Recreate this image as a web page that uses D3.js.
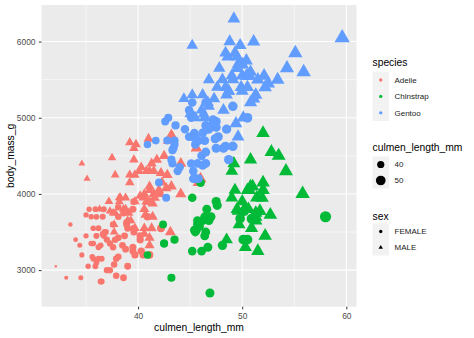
<!DOCTYPE html>
<html>
<head>
<meta charset="utf-8">
<script src="https://cdn.jsdelivr.net/npm/d3@7"></script>
<style>
body{margin:0;background:#fff;}
text{font-family:"Liberation Sans",Arial,sans-serif;}
</style>
</head>
<body>
<div id="plot"></div>
<script>
// penguins: [culmen_length_mm, body_mass_g, sex]
var adelie = [
	[39.1,3750,'M'],[39.5,3800,'F'],[40.3,3250,'F'],[36.7,3450,'F'],[39.3,3650,'M'],[38.9,3625,'F'],[39.2,4675,'M'],[41.1,3200,'F'],
	[38.6,3800,'M'],[34.6,4400,'M'],[36.6,3700,'F'],[38.7,3450,'F'],[42.5,4500,'M'],[34.4,3325,'F'],[46,4200,'M'],[37.8,3400,'F'],
	[37.7,3600,'M'],[35.9,3800,'F'],[38.2,3950,'M'],[38.8,3800,'M'],[35.3,3800,'F'],[40.6,3550,'M'],[40.5,3200,'F'],[37.9,3150,'F'],
	[40.5,3950,'M'],[39.5,3250,'F'],[37.2,3900,'M'],[39.5,3300,'F'],[40.9,3900,'M'],[36.4,3325,'F'],[39.2,4150,'M'],[38.8,3950,'M'],
	[42.2,3550,'F'],[37.6,3300,'F'],[39.8,4650,'M'],[36.5,3150,'F'],[40.8,3900,'M'],[36,3100,'F'],[44.1,4400,'M'],[37,3000,'F'],
	[39.6,4600,'M'],[41.1,3425,'M'],[36,3450,'F'],[42.3,4150,'M'],[39.6,3500,'F'],[40.1,4300,'M'],[35,3450,'F'],[42,4050,'M'],
	[34.5,2900,'F'],[41.4,3700,'M'],[39,3550,'F'],[40.6,3800,'M'],[36.5,2850,'F'],[37.6,3750,'M'],[35.7,3150,'F'],[41.3,4400,'M'],
	[37.6,3600,'F'],[41.1,4050,'M'],[36.4,2850,'F'],[41.6,3950,'M'],[35.5,3350,'F'],[41.1,4100,'M'],[35.9,3050,'F'],[41.8,4450,'M'],
	[33.5,3600,'F'],[39.7,3900,'M'],[39.6,3550,'F'],[45.8,4150,'M'],[35.5,3700,'F'],[42.8,4250,'M'],[40.9,3700,'F'],[37.2,3900,'M'],
	[36.2,3550,'F'],[42.1,4000,'M'],[34.6,3200,'F'],[42.9,4700,'M'],[36.7,3800,'F'],[35.1,4200,'M'],[37.3,3350,'F'],[41.3,3550,'M'],
	[36.3,3800,'M'],[36.9,3500,'F'],[38.3,3950,'M'],[38.9,3600,'F'],[35.7,3550,'F'],[41.1,4300,'M'],[34,3400,'F'],[39.6,4450,'M'],
	[36.2,3300,'F'],[40.8,4300,'M'],[38.1,3700,'F'],[40.3,4350,'M'],[33.1,2900,'F'],[43.2,4100,'M'],[35,3725,'F'],[41,4725,'M'],
	[37.7,3075,'F'],[37.8,4250,'M'],[37.9,2925,'F'],[39.7,3550,'M'],[38.6,3750,'F'],[38.2,3900,'M'],[38.1,3175,'F'],[43.2,4775,'M'],
	[38.1,3825,'F'],[45.6,4600,'M'],[39.7,3200,'F'],[42.2,4275,'M'],[39.6,3900,'F'],[42.7,4075,'M'],[38.6,2900,'F'],[37.3,3775,'M'],
	[35.7,3350,'F'],[41.1,3325,'M'],[36.2,3150,'F'],[37.7,3500,'M'],[40.2,3450,'F'],[41.4,3875,'M'],[35.2,3050,'F'],[40.6,4000,'M'],
	[38.8,3275,'F'],[41.5,4300,'M'],[39,3050,'F'],[44.1,4000,'M'],[38.5,3325,'F'],[43.1,3500,'M'],[36.8,3500,'F'],[37.5,4475,'M'],
	[38.1,3425,'F'],[41.1,3900,'M'],[35.6,3175,'F'],[40.2,3975,'M'],[37,3400,'F'],[39.7,4250,'M'],[40.2,3400,'F'],[40.6,3475,'M'],
	[32.1,3050,'F'],[40.7,3725,'M'],[37.3,3000,'F'],[39,3650,'M'],[39.2,4250,'M'],[36.6,3475,'F'],[36,3450,'F'],[37.8,3750,'M'],
	[36,3700,'F'],[41.5,4000,'M']
];

var chinstrap = [
	[46.5,3500,'F'],[50,3900,'M'],[51.3,3650,'M'],[45.4,3525,'F'],[52.7,3725,'M'],[45.2,3950,'F'],[46.1,3250,'F'],[51.3,3750,'M'],
	[46,4150,'F'],[51.3,3700,'M'],[46.6,3800,'F'],[51.7,3775,'M'],[47,3700,'F'],[52,4050,'M'],[45.9,3575,'F'],[50.5,4050,'M'],
	[50.3,3300,'M'],[58,3700,'F'],[46.4,3450,'F'],[49.2,4400,'M'],[42.4,3600,'F'],[48.5,3400,'M'],[43.2,2900,'F'],[50.6,3800,'M'],
	[46.7,3300,'F'],[52,4150,'M'],[50.5,3400,'F'],[49.5,3800,'M'],[46.4,3700,'F'],[52.8,4550,'M'],[40.9,3200,'F'],[54.2,4300,'M'],
	[42.5,3350,'F'],[51,4100,'M'],[49.7,3600,'M'],[47.5,3900,'F'],[47.6,3850,'F'],[52,4800,'M'],[46.9,2700,'F'],[53.5,4500,'M'],
	[49,3950,'M'],[46.2,3650,'F'],[50.9,3550,'M'],[45.5,3500,'F'],[50.9,3675,'F'],[50.8,4450,'M'],[50.1,3400,'F'],[49,4300,'M'],
	[51.5,3250,'M'],[49.8,3675,'F'],[48.1,3325,'F'],[51.4,3950,'M'],[45.7,3600,'F'],[50.7,4050,'M'],[42.5,3350,'F'],[52.2,3450,'M'],
	[45.2,3250,'F'],[49.3,4050,'M'],[50.2,3800,'M'],[45.6,3525,'F'],[51.9,3950,'M'],[46.8,3650,'F'],[45.7,3650,'F'],[55.8,4000,'M'],
	[43.5,3400,'F'],[49.6,3775,'M'],[50.8,4100,'M'],[50.2,3775,'F']
];

var gentoo = [
	[46.1,4500,'F'],[50,5700,'M'],[48.7,4450,'F'],[50,5700,'M'],[47.6,5400,'M'],[46.5,4550,'F'],[45.4,4800,'F'],[46.7,5200,'M'],
	[43.3,4400,'F'],[46.8,5150,'M'],[40.9,4650,'F'],[49,5550,'M'],[45.5,4650,'F'],[48.4,5850,'M'],[45.8,4200,'F'],[49.3,5850,'M'],
	[42,4150,'F'],[49.2,6300,'M'],[46.2,4800,'F'],[48.7,5350,'M'],[45.1,5000,'F'],[46.5,4400,'F'],[46.3,5050,'M'],[42.9,5000,'F'],
	[46.1,5100,'M'],[47.8,5650,'M'],[48.2,4600,'F'],[50,5550,'M'],[47.3,5250,'M'],[42.8,4700,'F'],[45.1,5050,'F'],[59.6,6050,'M'],
	[49.1,5150,'F'],[48.4,5400,'M'],[42.6,4950,'F'],[44.4,5250,'M'],[44,4350,'F'],[48.7,5350,'M'],[42.7,3950,'F'],[49.6,5700,'M'],
	[45.3,4300,'F'],[49.6,4750,'M'],[50.5,5550,'M'],[43.6,4900,'F'],[45.5,4200,'F'],[50.5,5400,'M'],[44.9,5100,'F'],[45.2,5300,'M'],
	[46.6,4850,'F'],[48.5,5300,'M'],[45.1,4400,'F'],[50.1,5000,'M'],[46.5,4900,'F'],[45,5050,'M'],[43.8,4300,'F'],[45.5,5000,'M'],
	[43.2,4450,'F'],[50.4,5550,'M'],[45.3,4200,'F'],[46.2,5300,'M'],[45.7,4400,'F'],[54.3,5650,'M'],[45.8,4700,'F'],[49.8,5700,'M'],
	[49.5,5800,'M'],[43.5,4700,'F'],[50.7,5550,'M'],[47.7,4750,'F'],[46.4,5000,'M'],[48.2,5100,'M'],[46.5,5200,'F'],[46.4,4700,'F'],
	[48.6,5800,'M'],[47.5,4600,'F'],[51.1,6000,'M'],[45.2,4750,'F'],[45.2,5950,'M'],[49.1,4625,'F'],[52.5,5450,'M'],[47.4,4725,'F'],
	[50,5350,'M'],[44.9,4750,'F'],[50.8,5600,'M'],[43.4,4600,'F'],[51.3,5300,'M'],[47.5,4875,'F'],[52.1,5550,'M'],[47.5,4950,'F'],
	[52.2,5400,'M'],[45.5,4750,'F'],[49.5,5650,'M'],[44.5,4850,'F'],[50.8,5200,'M'],[49.4,4925,'M'],[46.9,4875,'F'],[48.4,4625,'F'],
	[51.1,5250,'M'],[48.5,4850,'F'],[55.9,5600,'M'],[47.2,4975,'F'],[49.1,5500,'M'],[46.8,5500,'M'],[41.7,4700,'F'],[53.4,5500,'M'],
	[43.3,4575,'F'],[48.1,5500,'M'],[50.5,5000,'F'],[49.8,5950,'M'],[43.5,4650,'F'],[51.5,5500,'M'],[46.2,4375,'F'],[55.1,5850,'M'],
	[48.8,6000,'M'],[47.2,4925,'F'],[46.8,4850,'F'],[50.4,5750,'M'],[45.2,5200,'F'],[49.9,5400,'M']
];

var speciesNames = ['Adelie','Chinstrap','Gentoo'];
var speciesColors = ['#F8766D','#00BA38','#619CFF'];
var sexCodes = ['F','M'];
var sexNames = ['FEMALE','MALE'];
var sizeBreaks = [40,50];
var xTicks = [40,50,60], xMinor = [35,45,55];
var yTicks = [3000,4000,5000,6000], yMinor = [3500,4500,5500];

var W = 474, H = 338;
var p = {l:41.5, r:356.5, t:5, b:306.7};

var rows = [];
[adelie,chinstrap,gentoo].forEach(function(set,i){
	set.forEach(function(d){
		rows.push({len:d[0], mass:d[1], sex:d[2], species:speciesNames[i]});
	});
});

var lenExt = d3.extent(rows,function(d){return d.len}),
	massExt = d3.extent(rows,function(d){return d.mass});
var xPad = (lenExt[1]-lenExt[0])*0.05, yPad = (massExt[1]-massExt[0])*0.05;

var x = d3.scaleLinear().domain([lenExt[0]-xPad,lenExt[1]+xPad]).range([p.l,p.r]);
var y = d3.scaleLinear().domain([massExt[0]-yPad,massExt[1]+yPad]).range([p.b,p.t]);
var color = d3.scaleOrdinal().domain(speciesNames).range(speciesColors);
var shape = d3.scaleOrdinal().domain(sexCodes).range([d3.symbolCircle,d3.symbolTriangle]);
// area scale, size 1..6 over the data range (like scale_size)
var sizeSqrt = d3.scaleSqrt().domain([0,lenExt[1]-lenExt[0]]).range([1,6]);
function size(v){return sizeSqrt(v-lenExt[0]);}
function radius(s){return 0.9*s+0.3;}

var svg = d3.select('#plot').append('svg').attr('width',W).attr('height',H);
svg.append('rect').attr('width',W).attr('height',H).attr('fill','#fff');

// panel + grid
svg.append('rect').attr('x',p.l).attr('y',p.t).attr('width',p.r-p.l).attr('height',p.b-p.t).attr('fill','#EBEBEB');
var grid = svg.append('g');
grid.selectAll('.xm').data(xMinor).enter().append('line')
	.attr('x1',x).attr('x2',x).attr('y1',p.t).attr('y2',p.b)
	.attr('stroke','#fff').attr('stroke-width',0.55);
grid.selectAll('.ym').data(yMinor).enter().append('line')
	.attr('y1',y).attr('y2',y).attr('x1',p.l).attr('x2',p.r)
	.attr('stroke','#fff').attr('stroke-width',0.55);
grid.selectAll('.xM').data(xTicks).enter().append('line')
	.attr('x1',x).attr('x2',x).attr('y1',p.t).attr('y2',p.b)
	.attr('stroke','#fff').attr('stroke-width',1.1);
grid.selectAll('.yM').data(yTicks).enter().append('line')
	.attr('y1',y).attr('y2',y).attr('x1',p.l).attr('x2',p.r)
	.attr('stroke','#fff').attr('stroke-width',1.1);

// points
svg.append('g').selectAll('path').data(rows).enter().append('path')
	.attr('transform',function(d){return 'translate('+x(d.len)+','+y(d.mass)+')'})
	.attr('d',function(d){
		var r = radius(size(d.len));
		return d3.symbol().type(shape(d.sex)).size(Math.PI*r*r)();
	})
	.attr('fill',function(d){return color(d.species)});

// axes
var xAxis = svg.append('g').attr('transform','translate(0,'+p.b+')')
	.call(d3.axisBottom(x).tickValues(xTicks).tickFormat(d3.format('d')).tickSize(2.7).tickPadding(3.3));
var yAxis = svg.append('g').attr('transform','translate('+p.l+',0)')
	.call(d3.axisLeft(y).tickValues(yTicks).tickFormat(d3.format('d')).tickSize(2.7).tickPadding(3.3));
[xAxis,yAxis].forEach(function(a){
	a.select('.domain').remove();
	a.selectAll('line').attr('stroke','#333333').attr('stroke-width',1);
	a.selectAll('text').attr('fill','#4D4D4D').style('font-size','8.4px')
		.style('font-family','"Liberation Sans",Arial,sans-serif');
});

svg.append('text').attr('x',(p.l+p.r)/2).attr('y',330.5).attr('text-anchor','middle')
	.style('font-size','10.3px').text('culmen_length_mm');
svg.append('text').attr('transform','translate(13.5,'+((p.t+p.b)/2)+') rotate(-90)')
	.attr('text-anchor','middle').style('font-size','10.3px').text('body_mass_g');

// legends
var lg = svg.append('g');
var kx = 372.5, kw = 16.5, lx = 394.5;
function legendTitle(t,cy){
	lg.append('text').attr('x',kx).attr('y',cy+3.6).style('font-size','10.3px').text(t);
}
function legendLabel(t,cy){
	lg.append('text').attr('x',lx).attr('y',cy+2.9).style('font-size','8px').attr('fill','#1a1a1a').text(t);
}
function keyBox(cy,h){
	lg.append('rect').attr('x',kx).attr('y',cy-h/2).attr('width',kw).attr('height',h).attr('fill','#F2F2F2');
}
var keyR = radius(1.5);

legendTitle('species',62.3);
speciesNames.forEach(function(s,i){
	var cy = 80+i*16.4;
	keyBox(cy,16.4);
	lg.append('path').attr('transform','translate('+(kx+kw/2)+','+cy+')')
		.attr('d',d3.symbol().type(d3.symbolCircle).size(Math.PI*keyR*keyR)())
		.attr('fill',color(s));
	legendLabel(s,cy);
});

legendTitle('culmen_length_mm',147.3);
sizeBreaks.forEach(function(v,i){
	var cy = 164.5+i*16;
	keyBox(cy,16);
	var r = radius(size(v));
	lg.append('path').attr('transform','translate('+(kx+kw/2)+','+cy+')')
		.attr('d',d3.symbol().type(d3.symbolCircle).size(Math.PI*r*r)())
		.attr('fill','#000');
	legendLabel(v,cy);
});

legendTitle('sex',216);
sexCodes.forEach(function(c,i){
	var cy = 231.5+i*16;
	keyBox(cy,16);
	lg.append('path').attr('transform','translate('+(kx+kw/2)+','+cy+')')
		.attr('d',d3.symbol().type(shape(c)).size(Math.PI*keyR*keyR)())
		.attr('fill','#000');
	legendLabel(sexNames[i],cy);
});
</script>
</body>
</html>
